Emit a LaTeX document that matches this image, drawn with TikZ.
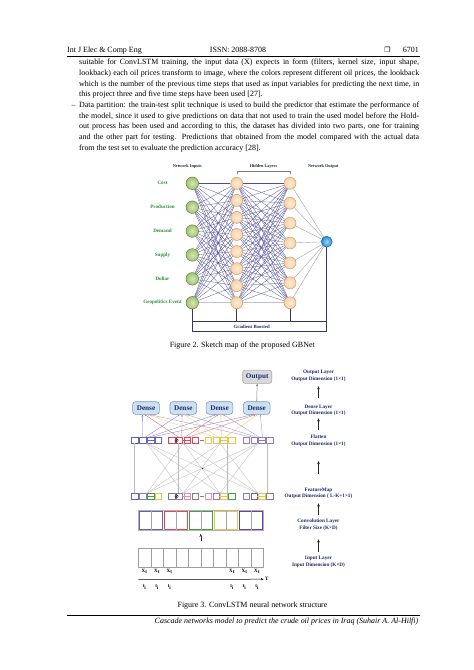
\documentclass[tikz,border=0pt]{standalone}
\usepackage{fontspec}
\setmainfont{Liberation Serif}
\newfontfamily\symfont{DejaVu Sans}
\usetikzlibrary{arrows.meta}
\definecolor{navy}{HTML}{1F2A6B}
\definecolor{netblue}{HTML}{4E4E9E}
\definecolor{ingreen}{HTML}{A3C46E}
\definecolor{ingreenD}{HTML}{6C9140}
\definecolor{peach}{HTML}{F6D2A6}
\definecolor{peachD}{HTML}{D49E62}
\definecolor{outblue}{HTML}{1E8FD9}
\definecolor{outblueD}{HTML}{1568A8}
\definecolor{labgreen}{HTML}{2F8F40}
\definecolor{densefill}{HTML}{CDE1F2}
\definecolor{denseedge}{HTML}{7A9BBB}
\definecolor{gA}{HTML}{6464B4}
\definecolor{gB}{HTML}{E0475A}
\definecolor{gC}{HTML}{EFC24E}
\definecolor{gD}{HTML}{9478C4}
\definecolor{cgreen}{HTML}{3FA046}
\definecolor{cpurple}{HTML}{6E3E9E}
\newcommand\bodyfont{\fontsize{7.97}{10.7}\selectfont}
\newcommand\netlab{\fontsize{4.3}{5}\selectfont\bfseries}
\newcommand\inlabfont{\fontsize{5.1}{6}\selectfont\bfseries}
\newcommand\layfont{\fontsize{5.2}{6.5}\selectfont\bfseries}
\newcommand\boxfont{\fontsize{7.2}{8}\selectfont\bfseries}
\tikzset{
  bodyline/.style={anchor=base west, inner sep=0, font=\bodyfont},
  innode/.style={circle, draw=ingreenD, line width=0.6pt, inner color=ingreen!45!white, outer color=ingreen, minimum size=12.5pt, inner sep=0},
  hidnode/.style={circle, draw=peachD, line width=0.5pt, inner color=peach!40!white, outer color=peach, minimum size=12pt, inner sep=0},
  outnode/.style={circle, draw=outblueD, line width=0.5pt, inner color=outblue!40!white, outer color=outblue, minimum size=11pt, inner sep=0},
  netline/.style={draw=netblue, line width=0.28pt},
  grline/.style={draw=gray!80, line width=0.35pt},
  gbline/.style={draw=gray!70!blue!60!black, line width=0.45pt},
  inlab/.style={font=\inlabfont, text=labgreen, inner sep=0},
  toplab/.style={font=\netlab, text=navy!80!black, inner sep=0},
  densebox/.style={draw=denseedge, fill=densefill, line width=0.6pt, rounded corners=3pt, minimum width=26.7pt, minimum height=12.6pt, inner sep=0, font=\boxfont, text=navy},
  outbox/.style={draw=gray!70, fill=gray!30, line width=0.6pt, rounded corners=2.5pt, minimum width=29pt, minimum height=13.3pt, inner sep=0, font=\boxfont, text=navy},
  laylab/.style={font=\layfont, text=navy, align=center, inner sep=0},
  uparrow/.style={-{Stealth[length=3.2pt,width=2.6pt]}, line width=0.4pt, draw=black!85},
  grp/.style={minimum width=30pt, minimum height=5.5pt, inner sep=0, draw=none},
  cell/.style={line width=0.45pt},
  xlab/.style={font=\fontsize{5}{5}\selectfont\bfseries, inner sep=0},
}
\begin{document}
\begin{tikzpicture}[x=1pt,y=-1pt]
\useasboundingbox (0,0) rectangle (474,670);
\fill[white] (0,0) rectangle (474,670);

% ---------- header ----------
\node[anchor=base west, inner sep=0, font=\bodyfont] (hl) at (67,52.5) {Int J Elec \& Comp Eng};
\node[anchor=base, inner sep=0, font=\bodyfont] (hc) at (238,52.5) {ISSN: 2088-8708};
\node[anchor=base, inner sep=0, font=\fontsize{7}{8}\symfont] (hsym) at (387.5,52.5) {❒};
\node[anchor=base east, inner sep=0, font=\bodyfont] (hr) at (419,52.5) {6701};
\coordinate (hruleL) at (67,56.2);
\coordinate (hruleR) at (419.5,56.2);
\draw[line width=0.9pt] (hruleL) -- (hruleR);

% ---------- body text ----------
\node[bodyline] (l1) at (79,64.8) {\makebox[340pt][s]{suitable for ConvLSTM training, the input data (X) expects in form (filters, kernel size, input shape,}};
\node[bodyline] (l2) at (79,75.5) {\makebox[340pt][s]{lookback) each oil prices transform to image, where the colors represent different oil prices, the lookback}};
\node[bodyline] (l3) at (79,86.15) {\makebox[340pt][s]{which is the number of the previous time steps that used as input variables for predicting the next time, in}};
\node[bodyline] (l4) at (79,96.8) {this project three and five time steps have been used [27].};
\node[bodyline] (dash) at (71.5,107.5) {–};
\node[bodyline] (l5) at (79,107.5) {\makebox[340pt][s]{Data partition: the train-test split technique is used to build the predictor that estimate the performance of}};
\node[bodyline] (l6) at (79,118.2) {\makebox[340pt][s]{the model, since it used to give predictions on data that not used to train the used model before the Hold-}};
\node[bodyline] (l7) at (79,128.85) {\makebox[340pt][s]{out process has been used and according to this, the dataset has divided into two parts, one for training}};
\node[bodyline] (l8) at (79,139.5) {\makebox[340pt][s]{and the other part for testing. Predictions that obtained from the model compared with the actual data}};
\node[bodyline] (l9) at (79,150.2) {from the test set to evaluate the prediction accuracy [28].};

% ---------- Figure 2 ----------
\node[toplab] (tNI) at (187.3,166.7) {Network Inputs};
\node[toplab] (tHL) at (263.5,166.7) {Hidden Layers};
\node[toplab] (tNO) at (323.3,166.7) {Network Output};
\coordinate (brA) at (236.7,174.2);
\coordinate (brB) at (290.5,174.2);
\draw[gray, line width=0.4pt] (brA) -- ++(0,-2.6) -| (brB);

\foreach \i/\lab in {0/Cost,1/Production,2/Demand,3/Supply,4/Dollar,5/Geopolitics Event}{
  \node[innode] (in\i) at (192.3,{183.3+23.88*\i}) {};
  \node[inlab] (inl\i) at (162.5,{183.3+23.88*\i}) {\lab};
}
\foreach \j in {0,...,7}{
  \node[hidnode] (ha\j) at (236.7,{183.3+17.06*\j}) {};
}
\foreach \j in {0,...,6}{
  \node[hidnode] (hb\j) at (290,{183.3+19.9*\j}) {};
}
\node[outnode] (out) at (326.7,241.7) {};

\foreach \i in {0,...,5}{\foreach \j in {0,...,7}{\draw[netline] (in\i) -- (ha\j);}}
\foreach \i in {0,...,7}{\foreach \j in {0,...,6}{\draw[netline] (ha\i) -- (hb\j);}}
\foreach \j in {0,...,6}{\draw[grline] (hb\j) -- (out);}

% gradient boosted frame
\coordinate (gbTL) at (192.3,321.7);
\coordinate (gbTR) at (326.7,321.7);
\coordinate (gbBL) at (192.3,331.2);
\coordinate (gbBR) at (326.7,331.2);
\draw[gbline] (in5) -- (gbBL) -- (gbBR) -- (out);
\draw[gbline] (gbTL) -- (gbTR);
\draw[gbline] (ha7) -- (ha7 |- gbTL);
\draw[gbline] (hb6) -- (hb6 |- gbTL);
\node[font=\fontsize{4.8}{5}\selectfont\bfseries, text=navy, inner sep=0] (gbt) at (251.7,326.6) {Gradient Boosted};

\node[anchor=base, inner sep=0, font=\bodyfont] (cap2) at (242.3,347.3) {Figure 2. Sketch map of the proposed GBNet};

% ---------- Figure 3 ----------
\node[outbox] (outb) at (257.2,376.7) {Output};
\foreach \x [count=\k from 0] in {146,183.3,219.5,256.7}{
  \node[densebox] (d\k) at (\x,408) {Dense};
}
\draw[-{Stealth[length=2.6pt,width=2.2pt]}, line width=0.5pt, draw=gray] (d3.north) -- (outb.south);

% top and bottom cell rows
\foreach \gx [count=\k from 0] in {131.7,168.3,205,243}{
  \node[grp] (tg\k) at ({\gx+15},440.25) {};
  \node[grp] (bg\k) at ({\gx+15},496.25) {};
}
% top row cells
\foreach \gx/\col in {131.7/gA,168.3/gB,205/gC,243/gD}{
  \foreach \c in {0,...,3}{
    \draw[cell, draw=\col] ({\gx+\c*7.83},437.5) rectangle ++(6.5,5.5);
  }
  \draw[cell, draw=\col] ({\gx+7.83+6.5},440.25) -- ++(7.83,0);
}
% bottom row cells
\foreach \gx/\ca/\cb/\cc/\cd in {131.7/gA/gD/cgreen/gC,168.3/gray/gD/gB!60/gray,205/gB!60/gD/gC/cgreen,243/gD/gA/gC/gray}{
  \draw[cell, draw=\ca] (\gx,493.5) rectangle ++(6.5,5.5);
  \draw[cell, draw=\cb] ({\gx+7.83},493.5) rectangle ++(6.5,5.5);
  \draw[cell, draw=\cc] ({\gx+15.66},493.5) rectangle ++(6.5,5.5);
  \draw[cell, draw=\cd] ({\gx+23.49},493.5) rectangle ++(6.5,5.5);
  \draw[cell, draw=\cc] ({\gx+7.83+6.5},496.25) -- ++(7.83,0);
}
% dashes between groups 2 and 3
\coordinate (tdA) at (199.6,440.25); \coordinate (tdB) at (204,440.25);
\coordinate (bdA) at (199.6,496.25); \coordinate (bdB) at (204,496.25);
\draw[line width=0.45pt, gray] (tdA) -- (tdB);
\draw[line width=0.45pt, gray] (bdA) -- (bdB);
% slashed circles
\node[circle, draw=black!80, line width=0.35pt, minimum size=3.6pt, inner sep=0] (oT) at (176.6,440.25) {};
\node[circle, draw=black!80, line width=0.35pt, minimum size=3.6pt, inner sep=0] (oB) at (176.6,496.25) {};
\draw[line width=0.35pt] (oT.south west) -- (oT.north east);
\draw[line width=0.35pt] (oB.south west) -- (oB.north east);

% lines from top row to dense layers
\foreach \i/\col in {0/gA,1/gB,2/gC,3/gD}{
  \foreach \j in {0,...,3}{
    \draw[draw=\col!85, line width=0.32pt, -{Stealth[length=2pt,width=1.8pt]}]
      ([xshift={(\j-1.5)*3pt}]tg\i.north) -- ([xshift={(\i-1.5)*2.4pt}]d\j.south);
  }
}
% crossing lines between rows
\foreach \i in {0,...,3}{
  \foreach \j in {0,...,3}{
    \ifnum\i=\j\else
      \draw[draw=gray!55, line width=0.3pt] (tg\i.south) -- (bg\j.north);
    \fi
  }
}
\foreach \k/\s in {0/-12.7,1/-5,2/7.3,3/9.3}{
  \draw[draw=gray!55, line width=0.3pt] ([xshift=\s pt]tg\k.south) -- ([xshift=\s pt]bg\k.north);
}
\fill[black] (202.7,468.4) circle (0.6pt);

% convolution layer
\node[draw=gray!60, line width=0.7pt, minimum width=125pt, minimum height=20.7pt, inner sep=0] (conv) at (200.8,520.35) {};
\foreach \bx/\col [count=\k from 0] in {139.3/gA,164.3/gB,189.3/cgreen,214.3/gC,239.3/cpurple}{
  \draw[line width=0.7pt, draw=\col] (\bx,511.2) rectangle ++(23.4,18.3);
  \draw[line width=0.45pt, draw=gray!70] ({\bx+11.7},511.2) -- ++(0,18.3);
}
\coordinate (caS) at (200.7,541);
\coordinate (caE) at (200.7,533.8);
\draw[uparrow] (caS) -- (caE);

% input layer
\node[draw=gray!75, line width=0.5pt, minimum width=125pt, minimum height=19pt, inner sep=0] (inp) at (200.8,557.8) {};
\foreach \k in {1,...,9}{
  \draw[line width=0.5pt, draw=gray!75] ({138.3+12.5*\k},548.3) -- ++(0,19);
}
\foreach \k in {1,2,3,8,9,10}{
  \node[xlab] (X\k) at ({144.55+12.5*(\k-1)},571.8) {X\textsubscript{t}};
  \node[xlab] (t\k) at ({144.55+12.5*(\k-1)},587.2) {t\textsubscript{i}};
}
\coordinate (axS) at (138.3,579.6);
\node[xlab] (T) at (266.9,579.2) {T};
\draw[-{Stealth[length=2.6pt,width=2.2pt]}, line width=0.5pt] (axS) -- ([xshift=-1.5pt]T.west);

% right-hand layer labels
\node[laylab] (Lout) at (318.5,376) {Output Layer\\Output Dimension (1×1)};
\node[laylab] (Lden) at (318.5,410.2) {Dense Layer\\Output Dimension (1×1)};
\node[laylab] (Lfla) at (318.5,440.7) {Flatten\\Output Dimension (1×1)};
\node[laylab] (Lfm) at (318.5,493.5) {FeatureMap\\Output Dimension ( L-K+1×1)};
\node[laylab] (Lcv) at (318.5,524.5) {Convolution Layer\\Filter Size (K×D)};
\node[laylab] (Lin) at (318.5,562) {Input Layer\\Input Dimension (K×D)};
\coordinate (a1s) at (318.5,397.5); \coordinate (a1e) at (318.5,386.2);
\coordinate (a2s) at (318.5,430); \coordinate (a2e) at (318.5,418.3);
\coordinate (a3s) at (318.5,473.5); \coordinate (a3e) at (318.5,461);
\coordinate (a4s) at (318.5,515); \coordinate (a4e) at (318.5,503.3);
\coordinate (a5s) at (318.5,551.7); \coordinate (a5e) at (318.5,539.3);
\foreach \n in {1,...,5}{\draw[uparrow] (a\n s) -- (a\n e);}

\node[anchor=base, inner sep=0, font=\bodyfont] (cap3) at (252.5,607.6) {Figure 3. ConvLSTM neural network structure};

% ---------- footer ----------
\coordinate (fruleL) at (67,615.2);
\coordinate (fruleR) at (419.5,615.2);
\draw[line width=0.9pt] (fruleL) -- (fruleR);
\node[anchor=base east, inner sep=0, font=\bodyfont\itshape] (foot) at (418.5,623) {Cascade networks model to predict the crude oil prices in Iraq (Suhair A. Al-Hilfi)};
\end{tikzpicture}
\end{document}
